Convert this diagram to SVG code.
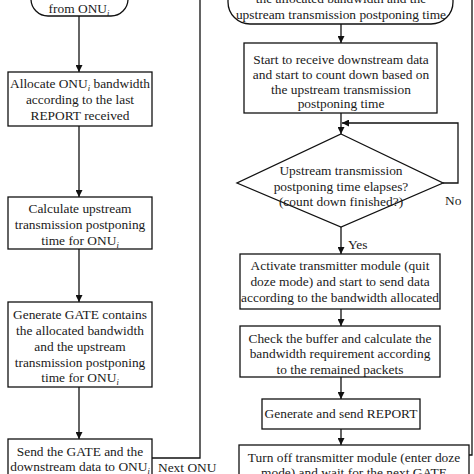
<svg xmlns="http://www.w3.org/2000/svg" width="474" height="474" viewBox="0 0 474 474">
<defs>
<marker id="ah" viewBox="0 0 10 10" refX="10" refY="5" markerWidth="7" markerHeight="7" markerUnits="userSpaceOnUse" orient="auto">
<path d="M0,0 L10,5 L0,10 z" fill="#111"/>
</marker>
<style>
.s{fill:#fff;stroke:#111;stroke-width:1.3}
.c{fill:none;stroke:#111;stroke-width:1.3}
.t{font-family:"Liberation Serif","Times New Roman",serif;font-size:13.4px;fill:#1a1a1a;text-anchor:middle}
.l{font-family:"Liberation Serif","Times New Roman",serif;font-size:13.4px;fill:#1a1a1a}
.sub{font-size:8.5px;font-style:italic}
</style>
</defs>
<rect width="474" height="474" fill="#fff"/>
<g id="connectors">
<path class="c" d="M79,16 V72" marker-end="url(#ah)"/>
<path class="c" d="M79,126 V197" marker-end="url(#ah)"/>
<path class="c" d="M79,249 V302" marker-end="url(#ah)"/>
<path class="c" d="M79,387 V439" marker-end="url(#ah)"/>
<path class="c" d="M152,458 H200 V0"/>
<path class="c" d="M341,24 V43" marker-end="url(#ah)"/>
<path class="c" d="M341,113 V134" marker-end="url(#ah)"/>
<path class="c" d="M443,183 H458 V123 H342" marker-end="url(#ah)"/>
<path class="c" d="M341,227 V254" marker-end="url(#ah)"/>
<path class="c" d="M341,309 V326" marker-end="url(#ah)"/>
<path class="c" d="M341,377 V399" marker-end="url(#ah)"/>
<path class="c" d="M341,429 V445" marker-end="url(#ah)"/>
<path class="c" d="M469,455 H472 V0"/>
<text class="l" x="445" y="205">No</text>
<text class="l" x="348" y="249">Yes</text>
<text class="l" x="158" y="472">Next ONU</text>
</g>
<g id="start-left">
<rect class="s" x="31" y="-30" width="97" height="46" rx="17"/>
<text class="t" x="79" y="13">from ONU<tspan class="sub" dy="3">i</tspan></text>
</g>
<g id="allocate">
<rect class="s" x="8" y="72" width="144" height="54"/>
<text class="t" x="80" y="88">Allocate ONU<tspan class="sub" dy="3">i</tspan><tspan dy="-3"> bandwidth</tspan></text>
<text class="t" x="80" y="104">according to the last</text>
<text class="t" x="80" y="120">REPORT received</text>
</g>
<g id="calculate">
<rect class="s" x="8" y="197" width="144" height="52"/>
<text class="t" x="80" y="213">Calculate upstream</text>
<text class="t" x="80" y="229">transmission postponing</text>
<text class="t" x="80" y="245">time for ONU<tspan class="sub" dy="3">i</tspan></text>
</g>
<g id="generate-gate">
<rect class="s" x="8" y="302" width="144" height="85"/>
<text class="t" x="80" y="319">Generate GATE contains</text>
<text class="t" x="80" y="335">the allocated bandwidth</text>
<text class="t" x="80" y="351">and the upstream</text>
<text class="t" x="80" y="367">transmission postponing</text>
<text class="t" x="80" y="382">time for ONU<tspan class="sub" dy="3">i</tspan></text>
</g>
<g id="send-gate">
<rect class="s" x="8" y="439" width="144" height="45"/>
<text class="t" x="80" y="456">Send the GATE and the</text>
<text class="t" x="80" y="471">downstream data to ONU<tspan class="sub" dy="3">i</tspan></text>
</g>
<g id="start-right">
<rect class="s" x="228" y="-30" width="225" height="54" rx="22"/>
<text class="t" x="341" y="3">the allocated bandwidth and the</text>
<text class="t" x="341" y="19">upstream transmission postponing time</text>
</g>
<g id="receive">
<rect class="s" x="244" y="43" width="193" height="70"/>
<text class="t" x="341" y="64">Start to receive downstream data</text>
<text class="t" x="341" y="79">and start to count down based on</text>
<text class="t" x="341" y="94">the upstream transmission</text>
<text class="t" x="341" y="108">postponing time</text>
</g>
<g id="decision">
<path class="s" d="M341,134 L443,183 L341,227 L237,183 z"/>
<text class="t" x="341" y="175">Upstream transmission</text>
<text class="t" x="341" y="191">postponing time elapses?</text>
<text class="t" x="341" y="206">(count down finished?)</text>
</g>
<g id="activate">
<rect class="s" x="240" y="254" width="200" height="55"/>
<text class="t" x="340" y="270">Activate transmitter module (quit</text>
<text class="t" x="340" y="286">doze mode) and start to send data</text>
<text class="t" x="340" y="302">according to the bandwidth allocated</text>
</g>
<g id="check">
<rect class="s" x="240" y="326" width="200" height="51"/>
<text class="t" x="340" y="343">Check the buffer and calculate the</text>
<text class="t" x="340" y="358">bandwidth requirement according</text>
<text class="t" x="340" y="374">to the remained packets</text>
</g>
<g id="report">
<rect class="s" x="262" y="399" width="158" height="30"/>
<text class="t" x="341" y="418">Generate and send REPORT</text>
</g>
<g id="turnoff">
<rect class="s" x="239" y="445" width="230" height="40"/>
<text class="t" x="354" y="462">Turn off transmitter module (enter doze</text>
<text class="t" x="354" y="477">mode) and wait for the next GATE</text>
</g>
</svg>
